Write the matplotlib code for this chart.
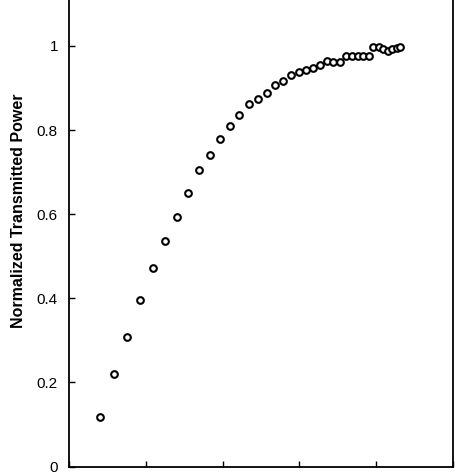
import matplotlib
matplotlib.use("Agg")
import matplotlib.pyplot as plt
from matplotlib.ticker import FuncFormatter

plt.rcParams['font.family'] = ['Liberation Sans', 'DejaVu Sans']

x_vals = [0.40, 0.58, 0.755, 0.925, 1.09, 1.25, 1.40, 1.545, 1.69, 1.83,
          1.96, 2.09, 2.22, 2.34, 2.46, 2.575, 2.685, 2.79, 2.89, 2.99,
          3.09, 3.18, 3.27, 3.355, 3.44, 3.53, 3.605, 3.685, 3.76, 3.83,
          3.90, 3.96, 4.03, 4.09, 4.15, 4.21, 4.265, 4.315]
power = [0.118, 0.219, 0.307, 0.397, 0.472, 0.536, 0.594, 0.650, 0.704, 0.740,
         0.780, 0.809, 0.837, 0.863, 0.873, 0.889, 0.907, 0.917, 0.932, 0.937,
         0.942, 0.948, 0.956, 0.965, 0.962, 0.961, 0.977, 0.977, 0.977, 0.977,
         0.977, 0.998, 0.998, 0.992, 0.988, 0.992, 0.996, 0.997]
y_ticks = [0, 0.2, 0.4, 0.6, 0.8, 1.0]
x_ticks = [0, 1, 2, 3, 4, 5]
y_label = "Normalized Transmitted Power"

fig = plt.figure(figsize=(4.74, 4.74), dpi=100)
W = H = 474.0
left_px, right_px, bottom_px = 69.0, 453.0, 466.5
unit_px = 420.5
ymax = 1.2
ax = fig.add_axes([left_px / W, (H - bottom_px) / H,
                   (right_px - left_px) / W, unit_px * ymax / H])

ax.plot(x_vals, power, linestyle='none', marker='o', markersize=4.8,
        markerfacecolor='white', markeredgecolor='black', markeredgewidth=1.5)

ax.set_xlim(0, 5)
ax.set_ylim(0, ymax)
ax.set_xticks(x_ticks)
ax.set_xticklabels([])
ax.set_yticks(y_ticks)
ax.yaxis.set_major_formatter(FuncFormatter(lambda v, p: f"{v:g}"))
ax.tick_params(axis='both', direction='in', length=4, width=1.0,
               labelsize=11, pad=8)
ax.tick_params(axis='y', right=False)
ax.tick_params(axis='x', top=False)
for s in ax.spines.values():
    s.set_linewidth(1.3)

ax.set_ylabel(y_label, fontsize=11.5, fontweight='bold')
ax.yaxis.set_label_coords(-0.112, 0.507)

fig.savefig("out.png", dpi=100)
